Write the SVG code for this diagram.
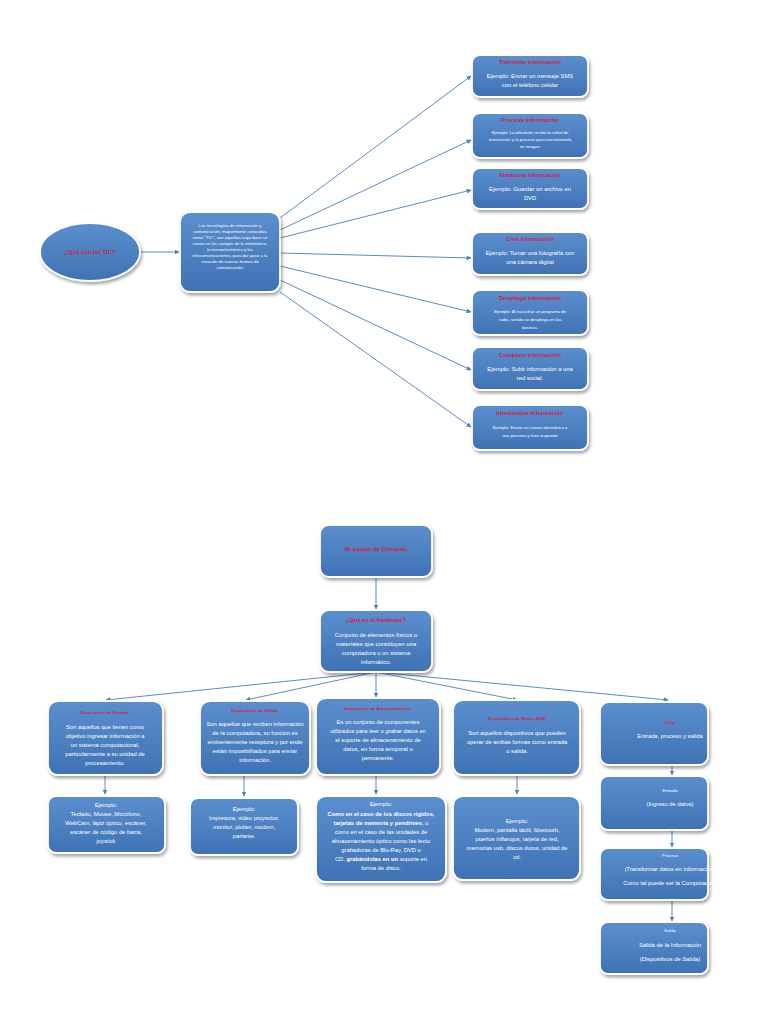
<svg xmlns="http://www.w3.org/2000/svg" width="768" height="1024" viewBox="0 0 768 1024">
<defs>
<linearGradient id="g" x1="0" y1="0" x2="0" y2="1"><stop offset="0" stop-color="#5b8fcf"/><stop offset="1" stop-color="#3f72b4"/></linearGradient>
<filter id="sh" x="-10%" y="-10%" width="130%" height="140%"><feDropShadow dx="1.5" dy="2.5" stdDeviation="1.5" flood-color="#000" flood-opacity="0.35"/></filter>
<marker id="a" viewBox="0 0 10 10" refX="9" refY="5" markerWidth="5" markerHeight="5" orient="auto"><path d="M0,0 L10,5 L0,10 z" fill="#4f81bd"/></marker>
</defs>
<style>
.b{fill:url(#g);stroke:#fff;stroke-width:1.8;filter:url(#sh)}
.c line{stroke:#5a8ccb;stroke-width:1;marker-end:url(#a)}
text{font-family:"Liberation Sans",Arial,sans-serif;fill:#fff;text-anchor:middle}
.t{fill:#d4203a;font-weight:bold}
.s5{font-size:4.3px}.s6{font-size:5.8px}.s7{font-size:6.3px}
</style>
<rect width="768" height="1024" fill="#fff"/>
<g class="c">
<line x1="140" y1="252" x2="179" y2="252"/>
<line x1="280" y1="218" x2="471" y2="76"/>
<line x1="280" y1="230" x2="471" y2="140"/>
<line x1="280" y1="238" x2="471" y2="190"/>
<line x1="280" y1="253" x2="471" y2="258"/>
<line x1="280" y1="266" x2="471" y2="312"/>
<line x1="280" y1="280" x2="471" y2="370"/>
<line x1="280" y1="292" x2="471" y2="427"/>
<line x1="376" y1="577" x2="376" y2="609"/>
<line x1="376" y1="672" x2="106" y2="700"/>
<line x1="376" y1="672" x2="246" y2="700"/>
<line x1="376" y1="672" x2="376" y2="697"/>
<line x1="376" y1="672" x2="517" y2="700"/>
<line x1="376" y1="672" x2="668" y2="700"/>
<line x1="105" y1="775" x2="105" y2="794"/>
<line x1="244" y1="775" x2="244" y2="796"/>
<line x1="376" y1="775" x2="376" y2="794"/>
<line x1="517" y1="775" x2="517" y2="794"/>
<line x1="672" y1="765" x2="672" y2="775"/>
<line x1="672" y1="830" x2="672" y2="847"/>
<line x1="672" y1="900" x2="672" y2="921"/>
</g>
<g id="tic"><ellipse class="b" cx="90" cy="252" rx="50" ry="29"/><text class="t s6" x="90" y="254">¿Qué son las TIC?</text></g>
<g id="def"><rect class="b" x="180" y="212" width="100" height="80" rx="10"/>
<text class="s5" x="230" y="227">Las tecnologías de información y</text>
<text class="s5" x="230" y="233">comunicación, mayormente conocidas</text>
<text class="s5" x="230" y="239">como "TIC", son aquellas cuya base se</text>
<text class="s5" x="230" y="245">centra en los campos de la informática,</text>
<text class="s5" x="230" y="251">la microelectrónica y las</text>
<text class="s5" x="230" y="257">telecomunicaciones, para dar paso a la</text>
<text class="s5" x="230" y="263">creación de nuevas formas de</text>
<text class="s5" x="230" y="269">comunicación.</text></g>
<g id="r1"><rect class="b" x="472" y="55" width="116" height="42" rx="8"/><text class="t s6" x="530" y="64">Transmite información</text><text class="s6" x="530" y="78">Ejemplo: Enviar un mensaje SMS</text><text class="s6" x="530" y="87">con el teléfono celular</text></g>
<g id="r2"><rect class="b" x="472" y="113" width="116" height="45" rx="8"/><text class="t s6" x="530" y="122">Procesa información</text><text class="s5" x="530" y="134">Ejemplo: La televisión recibe la señal de</text><text class="s5" x="530" y="141">transmisión y la procesa para transformarla</text><text class="s5" x="530" y="148">en imagen</text></g>
<g id="r3"><rect class="b" x="472" y="168" width="116" height="41" rx="8"/><text class="t s6" x="530" y="177">Almacena información</text><text class="s6" x="530" y="191">Ejemplo: Guardar un archivo en</text><text class="s6" x="530" y="200">DVD</text></g>
<g id="r4"><rect class="b" x="472" y="232" width="116" height="43" rx="8"/><text class="t s6" x="530" y="241">Crea información</text><text class="s6" x="530" y="255">Ejemplo: Tomar una fotografía con</text><text class="s6" x="530" y="264">una cámara digital</text></g>
<g id="r5"><rect class="b" x="472" y="290" width="116" height="45" rx="8"/><text class="t s6" x="530" y="300">Despliega información</text><text class="s5" x="530" y="313">Ejemplo: Al escuchar un programa de</text><text class="s5" x="530" y="321">radio, sonido se despliega en las</text><text class="s5" x="530" y="329">bocinas.</text></g>
<g id="r6"><rect class="b" x="472" y="347" width="116" height="43" rx="8"/><text class="t s6" x="530" y="357">Comparte información</text><text class="s6" x="530" y="371">Ejemplo: Subir información a una</text><text class="s6" x="530" y="380">red social.</text></g>
<g id="r7"><rect class="b" x="472" y="405" width="116" height="45" rx="8"/><text class="t s6" x="530" y="415">Intercambia información</text><text class="s5" x="530" y="429">Ejemplo: Enviar un correo electrónico a</text><text class="s5" x="530" y="437">una persona y ésta responde</text></g>
<g id="mi"><rect class="b" x="320" y="525" width="112" height="52" rx="9"/><text class="t s6" x="376" y="551">Mi equipo de Cómputo</text></g>
<g id="hw"><rect class="b" x="320" y="610" width="112" height="62" rx="9"/><text class="t s6" x="376" y="622">¿Qué es el hardware?</text><text class="s6" x="376" y="637">Conjunto de elementos físicos o</text><text class="s6" x="376" y="646">materiales que constituyen una</text><text class="s6" x="376" y="655">computadora o un sistema</text><text class="s6" x="376" y="664">informático.</text></g>
<g id="ent"><rect class="b" x="48" y="701" width="115" height="74" rx="10"/><text class="t s5" x="105" y="714">Dispositivos de Entrada:</text><text class="s6" x="105" y="729">Son aquellos que tienen como</text><text class="s6" x="105" y="738">objetivo ingresar información a</text><text class="s6" x="105" y="747">un sistema computacional,</text><text class="s6" x="105" y="756">particularmente a su unidad de</text><text class="s6" x="105" y="765">procesamiento.</text></g>
<g id="entx"><rect class="b" x="48" y="796" width="117" height="57" rx="8"/><text class="s6" x="106" y="807">Ejemplo:</text><text class="s6" x="106" y="816">Teclado, Mouse, Micrófono,</text><text class="s6" x="106" y="825">WebCam, lápiz óptico, escáner,</text><text class="s6" x="106" y="834">escáner de código de barra,</text><text class="s6" x="106" y="843">joystick</text></g>
<g id="sal"><rect class="b" x="200" y="701" width="110" height="74" rx="10"/><text class="t s5" x="255" y="712">Dispositivos de Salida:</text><text class="s6" x="255" y="726">Son aquellos que reciben información</text><text class="s6" x="255" y="735">de la computadora, su función es</text><text class="s6" x="255" y="744">eminentemente receptora y por ende</text><text class="s6" x="255" y="753">están imposibilitados para enviar</text><text class="s6" x="255" y="762">información.</text></g>
<g id="salx"><rect class="b" x="190" y="798" width="108" height="57" rx="8"/><text class="s6" x="244" y="811">Ejemplo:</text><text class="s6" x="244" y="820">Impresora, video proyector,</text><text class="s6" x="244" y="829">monitor, plotter, modem,</text><text class="s6" x="244" y="838">parlante.</text></g>
<g id="alm"><rect class="b" x="316" y="698" width="124" height="77" rx="10"/><text class="t s5" x="378" y="710">Dispositivos de Almacenamiento:</text><text class="s6" x="378" y="724">Es un conjunto de componentes</text><text class="s6" x="378" y="733">utilizados para leer o grabar datos en</text><text class="s6" x="378" y="742">el soporte de almacenamiento de</text><text class="s6" x="378" y="751">datos, en forma temporal o</text><text class="s6" x="378" y="760">permanente.</text></g>
<g id="almx"><rect class="b" x="316" y="796" width="130" height="86" rx="10"/><text class="s6" x="381" y="806">Ejemplo:</text><text class="s6" x="381" y="816" font-weight="bold">Como en el caso de los discos rígidos,</text><text class="s6" x="381" y="825" font-weight="bold">tarjetas de memoria y pendrives<tspan font-weight="normal">, o</tspan></text><text class="s6" x="381" y="834">como en el caso de las unidades de</text><text class="s6" x="381" y="843">almacenamiento óptico como las lecto</text><text class="s6" x="381" y="852">grabadoras de Blu-Ray, DVD o</text><text class="s6" x="381" y="861">CD, <tspan font-weight="bold">grabándolas en un</tspan> soporte en</text><text class="s6" x="381" y="870">forma de disco.</text></g>
<g id="mix"><rect class="b" x="453" y="700" width="127" height="75" rx="10"/><text class="t s5" x="517" y="720">Dispositivos de Mixtos (E/S)</text><text class="s6" x="517" y="735">Son aquellos dispositivos que pueden</text><text class="s6" x="517" y="744">operar de ambas formas como entrada</text><text class="s6" x="517" y="753">o salida.</text></g>
<g id="mixx"><rect class="b" x="453" y="796" width="127" height="84" rx="10"/><text class="s6" x="517" y="823">Ejemplo:</text><text class="s6" x="517" y="832">Modem, pantalla táctil, bluetooth,</text><text class="s6" x="517" y="841">puertos inflarojos, tarjeta de red,</text><text class="s6" x="517" y="850">memorias usb, discos duros, unidad de</text><text class="s6" x="517" y="859">cd.</text></g>
<g id="ciclo"><rect class="b" x="600" y="702" width="108" height="63" rx="9"/><text class="t s5" x="670" y="724">Ciclo:</text><text class="s6" x="670" y="738">Entrada, proceso y salida</text></g>
<g id="c1"><rect class="b" x="600" y="776" width="108" height="54" rx="8"/><text class="s5" x="670" y="792">Entrada</text><text class="s6" x="670" y="806">(Ingreso de datos)</text></g>
<g id="c2"><rect class="b" x="600" y="848" width="108" height="52" rx="8"/><text class="s5" x="670" y="857">Proceso</text><text class="s6" x="670" y="871">(Transformar datos en información)</text><text class="s6" x="670" y="885">Como tal puede ser la Computadora</text></g>
<g id="c3"><rect class="b" x="600" y="922" width="108" height="52" rx="8"/><text class="s5" x="670" y="932">Salida</text><text class="s6" x="670" y="947">Salida de la Información</text><text class="s6" x="670" y="961">(Dispositivos de Salida)</text></g>
</svg>
